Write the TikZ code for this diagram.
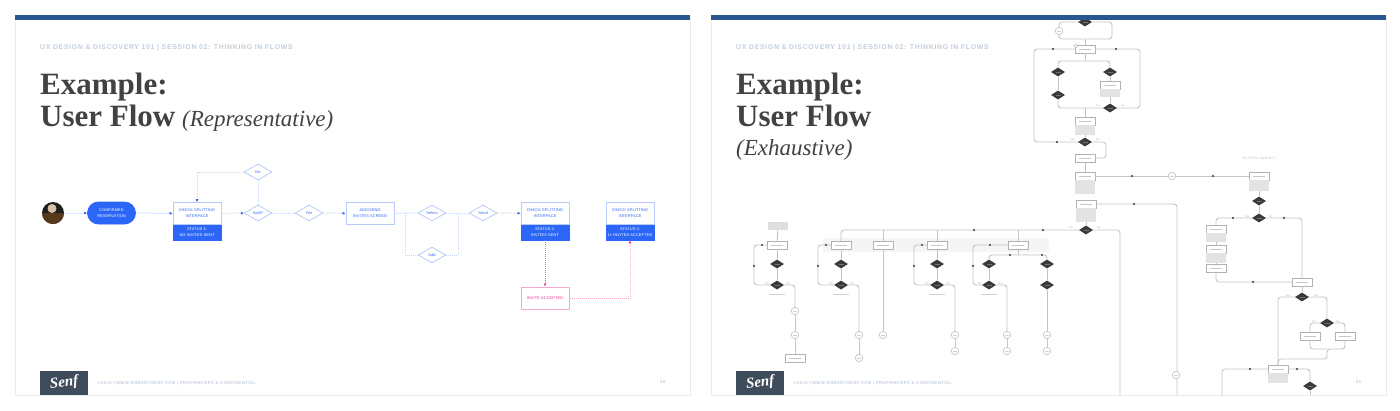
\documentclass[tikz,border=0pt]{standalone}
\usepackage{fontspec}
\setmainfont{Liberation Serif}
\newfontfamily\headfont[LetterSpace=10]{Liberation Sans}
\newfontfamily\boxfont[LetterSpace=3]{Liberation Sans}
\definecolor{bar_blue}{HTML}{2B5790}
\definecolor{flow_blue}{HTML}{2B66F6}
\definecolor{line_blue}{HTML}{B9CBF7}
\definecolor{edge_blue}{HTML}{C6D5FA}
\definecolor{flow_pink}{HTML}{E7329A}
\definecolor{soft_pink}{HTML}{F5A9D2}
\definecolor{head_grey}{HTML}{C3CEDC}
\definecolor{title_grey}{HTML}{424242}
\definecolor{logo_grey}{HTML}{3F4C5C}
\definecolor{dark_grey}{HTML}{3A3A3A}
\definecolor{ex_line}{HTML}{C4C4C4}
\usetikzlibrary{shapes.geometric,arrows.meta,shadows}
\tikzset{slide_frame/.style={draw=black!8, line width=1pt, fill=white}}
\tikzset{head_text/.style={anchor=west, inner sep=0pt, text=head_grey, font=\headfont\bfseries\fontsize{6.9}{7}\selectfont}}
\tikzset{foot_text/.style={anchor=west, inner sep=0pt, text=head_grey, font=\headfont\bfseries\fontsize{4.2}{5}\selectfont}}
\tikzset{title_text/.style={anchor=base west, inner sep=0pt, text=title_grey, font=\fontsize{31}{31}\selectfont\bfseries}}
\tikzset{sub_text/.style={anchor=base west, inner sep=0pt, text=title_grey, font=\fontsize{23}{23}\selectfont\itshape}}
\tikzset{blue_box/.style={rectangle, draw=line_blue, line width=0.8pt, fill=white, minimum width=48pt, minimum height=22pt, inner sep=0pt, align=center, text=flow_blue, font=\boxfont\fontsize{3.9}{6}\selectfont}}
\tikzset{status_box/.style={blue_box, draw=flow_blue, fill=flow_blue, text=white, minimum height=15pt}}
\tikzset{pink_box/.style={blue_box, draw=soft_pink, line width=1pt, text=flow_pink}}
\tikzset{pill_box/.style={blue_box, rounded corners=11pt, draw=flow_blue, fill=flow_blue, text=white}}
\tikzset{blue_choice/.style={diamond, aspect=1.75, draw=line_blue, line width=0.8pt, fill=white, minimum width=28pt, minimum height=16pt, inner sep=0pt, text=flow_blue, font=\boxfont\fontsize{3.9}{6}\selectfont}}
\tikzset{flow_edge/.style={edge_blue, line width=1pt, densely dotted}}
\tikzset{flow_arrow/.style={flow_edge, -{Latex[length=3pt,width=3pt,flow_blue]}}}
\tikzset{pink_edge/.style={soft_pink, line width=1pt, densely dotted}}
\tikzset{pink_arrow/.style={pink_edge, -{Latex[length=3pt,width=3pt,flow_pink]}}}
\tikzset{ex_box/.style={rectangle, draw=black!30, line width=0.5pt, fill=white, minimum width=20pt, minimum height=7.5pt, inner sep=0pt, label={[inner sep=0pt]center:\textcolor{black!22}{\rule{12pt}{0.9pt}}}}}
\tikzset{ex_shadow/.style={drop shadow={shadow xshift=1.2pt, shadow yshift=-1.2pt, fill=black!22, opacity=1}}}
\tikzset{ex_note/.style={rectangle, fill=black!11, minimum width=20pt, inner sep=0pt, anchor=north}}
\tikzset{ex_choice/.style={diamond, aspect=1.7, fill=dark_grey, minimum width=14pt, minimum height=9pt, inner sep=0pt, label={[inner sep=0pt]center:\textcolor{black!55}{\rule{5pt}{0.7pt}}}}}
\tikzset{ex_circle/.style={circle, draw=black!28, line width=0.5pt, fill=white, minimum size=7.5pt, inner sep=0pt, label={[inner sep=0pt]center:\textcolor{black!18}{\rule{3.5pt}{0.7pt}}}}}
\tikzset{ex_edge/.style={ex_line, line width=0.9pt, rounded corners=3pt}}
\tikzset{ex_tip/.style={diamond, fill=dark_grey, minimum size=2.4pt, inner sep=0pt}}
\tikzset{ex_word/.style={inner sep=0pt, text=black!40, font=\fontsize{2.6}{3}\selectfont}}
\tikzset{ex_caption/.style={inner sep=0pt}}
\begin{document}
\begin{tikzpicture}[x=1pt,y=-1pt]
  \useasboundingbox (0,0) rectangle (1400,410);
  \fill[white] (0,0) rectangle (1400,410);
  % left slide
  \draw[slide_frame] (15,17) rectangle (690,395);
  \draw[slide_frame] (711,17) rectangle (1386,395);
  \node[head_text] (head_a) at (40,47.5) {UX DESIGN \& DISCOVERY 101 | SESSION 02: THINKING IN FLOWS};
  \node[title_text] (title_a1) at (40,94) {Example:};
  \node[title_text] (title_a2) at (40,126) {User Flow};
  \node[sub_text] (title_a3) at (182,126) {(Representative)};

  \node[circle, fill=black!88, minimum size=22pt, inner sep=0pt] (photo) at (53,213) {};
  \fill[black!55!brown] (53,213) ++(0:11) arc (0:180:11) -- cycle;
  \fill[black!10!brown!45] (52,208.5) circle (4.5);
  \node[pill_box] (reserve) at (111.5,213) {CONFIRMED\\RESERVATION};
  \node[blue_box] (check_a) at (197,213.5) {CHECK SPLITTING\\INTERFACE};
  \node[status_box] (status_a) at (197,232.5) {STATUS 1:\\NO INVITES SENT};
  \node[blue_choice] (no_a) at (258,172) {No};
  \node[blue_choice] (split_a) at (258,213) {Split?};
  \node[blue_choice] (yes_a) at (309,213) {Yes};
  \node[blue_box] (add_screen) at (370,213.5) {ADD/SEND\\INVITES SCREEN};
  \node[blue_choice] (select_a) at (432,213) {Select};
  \node[blue_choice] (add_a) at (432,255) {Add};
  \node[blue_choice] (send_a) at (483,213) {Send};
  \node[blue_box] (check_b) at (545,213.5) {CHECK SPLITTING\\INTERFACE};
  \node[status_box] (status_b) at (545,232.5) {STATUS 2:\\INVITES SENT};
  \node[blue_box] (check_c) at (630,213.5) {CHECK SPLITTING\\INTERFACE};
  \node[status_box] (status_c) at (630,232.5) {STATUS 3:\\1+ INVITES ACCEPTED};
  \node[pink_box] (accepted) at (545,298) {INVITE ACCEPTED};
  \coordinate (branch_l) at (405,213);
  \coordinate (branch_r) at (458,213);

  \draw[flow_arrow] (photo)--(reserve);
  \draw[flow_arrow] (reserve)--(check_a);
  \draw[flow_arrow] (check_a)--(split_a);
  \draw[flow_edge] (split_a)--(no_a);
  \draw[flow_arrow] (no_a)-|(check_a);
  \draw[flow_edge] (split_a)--(yes_a);
  \draw[flow_arrow] (yes_a)--(add_screen);
  \draw[flow_edge] (add_screen)--(select_a);
  \draw[flow_edge] (select_a)--(send_a);
  \draw[flow_arrow] (send_a)--(check_b);
  \draw[flow_edge] (branch_l) |- (add_a);
  \draw[flow_edge] (add_a) -| (branch_r);
  \draw[pink_arrow, flow_pink!80] (status_b)--(accepted);
  \draw[pink_arrow] (accepted)-|(status_c);

  % right slide
  \node[head_text] (head_b) at (736,47.5) {UX DESIGN \& DISCOVERY 101 | SESSION 02: THINKING IN FLOWS};
  \node[title_text] (title_b1) at (736,94) {Example:};
  \node[title_text] (title_b2) at (736,126) {User Flow};
  \node[sub_text] (title_b3) at (736,155) {(Exhaustive)};
  \node[anchor=center, text=black!25, font=\headfont\fontsize{3.2}{4}\selectfont, inner sep=0pt] (invitee_label) at (1259,158) {INVITEES SUBJECT};

  \fill[black!4] (823,238) rectangle (1049,252);

  % upper column
  \node[ex_choice] (t0) at (1085,22) {};
  \node[ex_circle] (t1) at (1059,31) {};
  \node[ex_box] (t2) at (1085,49) {};
  \node[ex_choice] (t3) at (1058,72) {};
  \node[ex_choice] (t4) at (1058,95) {};
  \node[ex_choice] (t5) at (1110,72) {};
  \node[ex_box] (t6) at (1110,85) {};
  \node[ex_choice] (t7) at (1110,108) {};
  \node[ex_box] (t8) at (1085,121) {};
  \node[ex_choice] (t9) at (1085,142) {};
  \node[ex_box] (t10) at (1085,158) {};
  \node[ex_box] (t11) at (1085,176) {};
  \node[ex_circle] (t12) at (1172,176) {};
  \node[ex_box] (t13) at (1086,204) {};
  \node[ex_choice] (t14) at (1086,230) {};
  \node[circle, draw=black!28, line width=0.4pt, fill=white, minimum size=3.5pt, inner sep=0pt] (t15) at (1076,46) {};
  \coordinate (t2_b) at (1085,61);
  \coordinate (t0_b) at (1085,39);
  \coordinate (t7_l) at (1085,108);
  \draw[ex_edge] (t0)-|(1112,39)-|(t1)|-(t0);
  \draw[ex_edge] (t0_b)--(t2);
  \draw[ex_edge] (t2)--(t2_b);
  \draw[ex_edge] (t3)|-(t2_b)-|(t5);
  \draw[ex_edge] (t3)--(t4);
  \draw[ex_edge] (t5)--(t6);
  \draw[ex_edge] (t6)--(t7);
  \draw[ex_edge] (t4)|-(t7);
  \draw[ex_edge] (t7)-|(1140,49)--(t2);
  \draw[ex_edge] (t7_l)--(t8);
  \draw[ex_edge] (t8)--(t9);
  \draw[ex_edge] (t9)-|(1034,49)--(t2);
  \draw[ex_edge] (t9)-|(1106,158)--(t10);
  \draw[ex_edge] (t10)--(t11);
  \draw[ex_edge] (t11)--(t12);
  \draw[ex_edge] (t13)--(t14);
  \draw[ex_edge] (t13)-|(1177,395);
  \draw[ex_edge] (t14)-|(1120,395);

  % lower row
  \node[rectangle, fill=black!13, minimum width=20pt, minimum height=8pt, inner sep=0pt] (a0) at (778,226) {};
  \node[ex_box] (a1) at (777,245) {};
  \node[ex_choice] (a2) at (777,264) {};
  \node[ex_choice] (a3) at (777,285) {};
  \node[ex_circle] (a4) at (795,311) {};
  \node[ex_circle] (a5) at (795,335) {};
  \node[ex_box] (a6) at (795,358) {};
  \draw[ex_edge] (a0)--(a1);
  \draw[ex_edge] (a1)--(a2);
  \draw[ex_edge] (a2)--(a3);
  \draw[ex_edge] (a3)-|(754,245)--(a1);
  \draw[ex_edge] (a3)-|(a4);
  \draw[ex_edge] (a4)--(a5);
  \draw[ex_edge] (a5)--(a6);

  \foreach \n/\bx/\lx in {b/841/818,d/937/914}{
    \node[ex_box] (\n1) at (\bx,245) {};
    \node[ex_choice] (\n2) at (\bx,264) {};
    \node[ex_choice] (\n3) at (\bx,285) {};
    \draw[ex_edge] (\n1)--(\n2);
    \draw[ex_edge] (\n2)--(\n3);
    \draw[ex_edge] (\n3)-|(\lx,245)--(\n1);
  }
  \node[ex_circle] (b4) at (859,335) {};
  \node[ex_circle] (b5) at (859,358) {};
  \draw[ex_edge] (b3)-|(b4);
  \draw[ex_edge] (b4)--(b5);
  \node[ex_box] (c1) at (883,245) {};
  \node[ex_circle] (c2) at (883,335) {};
  \draw[ex_edge] (c1)--(c2);
  \node[ex_circle] (d4) at (955,335) {};
  \node[ex_circle] (d5) at (955,351) {};
  \draw[ex_edge] (d3)-|(d4);
  \draw[ex_edge] (d4)--(d5);

  \node[ex_box] (e1) at (1018,245) {};
  \node[ex_choice] (e2) at (989,264) {};
  \node[ex_choice] (e3) at (989,285) {};
  \node[ex_circle] (e4) at (1007,335) {};
  \node[ex_circle] (e5) at (1007,351) {};
  \node[ex_choice] (f2) at (1047,264) {};
  \node[ex_choice] (f3) at (1047,285) {};
  \node[ex_circle] (f4) at (1047,335) {};
  \node[ex_circle] (f5) at (1047,351) {};
  \coordinate (e1_b) at (1018,255);
  \draw[ex_edge] (e1)--(e1_b);
  \draw[ex_edge] (e2)|-(e1_b)-|(f2);
  \draw[ex_edge] (e2)--(e3);
  \draw[ex_edge] (e3)-|(973,245)--(e1);
  \draw[ex_edge] (e3)-|(e4);
  \draw[ex_edge] (e4)--(e5);
  \draw[ex_edge] (f2)--(f3);
  \draw[ex_edge] (f3)--(f4);
  \draw[ex_edge] (f4)--(f5);

  \draw[ex_edge] (t14)-|(b1);
  \draw[ex_edge] (c1)--(883,230);
  \draw[ex_edge] (d1)--(937,230);
  \draw[ex_edge] (e1)--(1018,230);

  % right column
  \node[ex_box] (g0) at (1259,176) {};
  \node[ex_choice] (g1) at (1259,201) {};
  \node[ex_choice] (g2) at (1259,218) {};
  \node[ex_box] (g3) at (1216,229) {};
  \node[ex_box] (g4) at (1216,249) {};
  \node[ex_box] (g5) at (1216,268) {};
  \node[ex_box] (g6) at (1302,282) {};
  \node[ex_choice] (g7) at (1302,297) {};
  \node[ex_choice] (g8) at (1327,323) {};
  \node[ex_box] (g9) at (1310,336) {};
  \node[ex_box] (g10) at (1345,336) {};
  \node[ex_box] (g11) at (1278,369) {};
  \node[ex_choice] (g12) at (1310,386) {};
  \node[ex_circle] (g13) at (1176,375) {};
  \coordinate (g9_j) at (1327,349);
  \coordinate (g9_k) at (1327,359);
  \draw[ex_edge] (t12)--(g0);
  \draw[ex_edge] (g0)--(g1);
  \draw[ex_edge] (g1)--(g2);
  \draw[ex_edge] (g2)-|(g3);
  \draw[ex_edge] (g3)--(g4);
  \draw[ex_edge] (g4)--(g5);
  \draw[ex_edge] (g5)|-(g6);
  \draw[ex_edge] (g2)-|(g6);
  \draw[ex_edge] (g6)--(g7);
  \draw[ex_edge] (g7)-|(g8);
  \draw[ex_edge] (g7)-|(g11);
  \draw[ex_edge] (g8)-|(g9);
  \draw[ex_edge] (g8)-|(g10);
  \draw[ex_edge] (g9)|-(g9_j);
  \draw[ex_edge] (g10)|-(g9_j)--(g9_k)-|(g11);
  \draw[ex_edge] (g11)-|(1222,395);
  \draw[ex_edge] (g11)-|(g12);
  \draw[ex_edge] (g12)--(1310,395);

  % shadowed boxes and grey notes under boxes
  \node[ex_box, ex_shadow] (d1_top) at (d1) {};
  \node[ex_box, ex_shadow] (e1_top) at (e1) {};
  \node[ex_box, ex_shadow] (g10_top) at (g10) {};
  \foreach \n/\nh in {t6/8,t8/10,t11/14,t13/14,g0/11,g3/9,g4/10,g11/10}{
    \node[ex_note, minimum height=\nh pt] (note_\n) at (\n.south) {};
  }

  % arrow marks on the grey lines
  \foreach \tx/\ty [count=\i] in {1053/49,1116/49,1057/142,1132/176,1213/176,1134/204,1043/230,974/230,
      1233/218,1284/218,1253/282,1250/369,1297/369,762/245,754/266,826/245,818/266,
      922/245,914/266,990/245,973/266,1010/255,1042/255}{
    \node[ex_tip] (tip_\i) at (\tx,\ty) {};
  }
  % answers beside the dark diamonds
  \foreach \wx/\wy/\wt [count=\i] in {1073/140/Yes,1098/140/No,1098/106/Yes,1123/106/No,1071/228/Yes,1099/228/No,
      1247/217/Yes,1271/217/No,767/284/Yes,788/284/No,831/284/Yes,852/284/No,927/284/Yes,948/284/No,
      980/284/Yes,1000/284/No,1288/296/Yes,1316/296/No,1314/322/Yes,1338/322/No}{
    \node[ex_word] (word_\i) at (\wx,\wy) {\wt};
  }
  % comment strokes below the diamonds
  \foreach \cx [count=\i] in {777,841,937,989}{
    \node[ex_caption] (cap_\i) at (\cx,294) {\textcolor{black!18}{\rule{16pt}{0.9pt}}};
  }

  % footer and top bars
  \fill[bar_blue] (15,15) rectangle (690,20);
  \fill[bar_blue] (711,15) rectangle (1386,20);
  \foreach \n/\ox/\px/\pn in {a/40/660/50,b/736/1356/52}{
    \node[rectangle, fill=logo_grey, minimum width=48pt, minimum height=24pt, inner sep=0pt, anchor=north west] (logo_\n) at (\ox,371) {};
    \node[text=white, inner sep=0pt, rotate=6, font=\fontsize{15}{15}\selectfont\itshape\bfseries] (logo_word_\n) at (logo_\n) {Senf};
    \node[foot_text, right=9pt] (foot_\n) at (logo_\n.east) {\textcopyright 2018 | WWW.ROBERTSENF.COM | PROPRIETARY \& CONFIDENTIAL};
    \node[foot_text] (page_\n) at (\px,382) {\pn};
  }
\end{tikzpicture}
\end{document}
